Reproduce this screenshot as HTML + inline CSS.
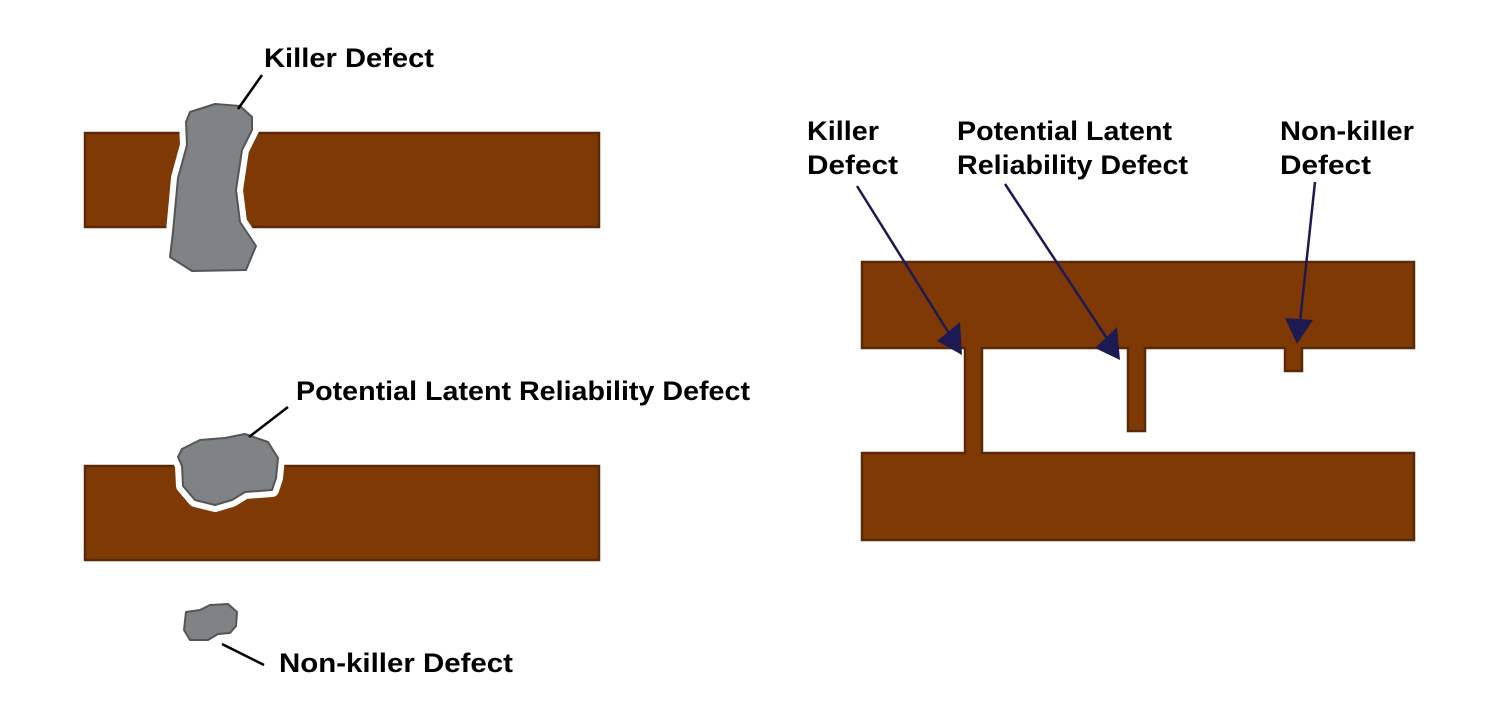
<!DOCTYPE html>
<html><head><meta charset="utf-8"><style>html,body{margin:0;padding:0;background:#fff}svg{display:block}text{font-family:"Liberation Sans",sans-serif;font-weight:bold;font-size:27px;fill:#000}</style></head>
<body>
<svg width="1500" height="725" viewBox="0 0 1500 725" xmlns="http://www.w3.org/2000/svg">
<g stroke="#5a2a08" stroke-width="2.5" fill="#7f3905">
<rect x="85" y="133" width="514" height="94"/>
<rect x="85" y="466" width="514" height="94"/>
</g>
<path d="M190,112 L215,104 L240,106 L252,117 L252,130 L242,150 L236,190 L240,222 L256,246 L246,270 L192,271 L170,257 L173,232 L178,178 L187,145 L186,122 Z" fill="#fff" stroke="#fff" stroke-width="14" stroke-linejoin="round"/>
<path d="M190,112 L215,104 L240,106 L252,117 L252,130 L242,150 L236,190 L240,222 L256,246 L246,270 L192,271 L170,257 L173,232 L178,178 L187,145 L186,122 Z" fill="#7f8386" stroke="#555" stroke-width="2" stroke-linejoin="round"/>
<line x1="238" y1="109" x2="262" y2="75" stroke="#000" stroke-width="2.5"/>
<path d="M182,449 L200,440 L225,438 L245,434 L268,442 L278,458 L276,478 L272,490 L245,492 L232,500 L215,505 L195,500 L183,486 L182,466 L178,457 Z" fill="#fff" stroke="#fff" stroke-width="14" stroke-linejoin="round"/>
<path d="M182,449 L200,440 L225,438 L245,434 L268,442 L278,458 L276,478 L272,490 L245,492 L232,500 L215,505 L195,500 L183,486 L182,466 L178,457 Z" fill="#7f8386" stroke="#555" stroke-width="2" stroke-linejoin="round"/>
<line x1="249" y1="437" x2="288" y2="407" stroke="#000" stroke-width="2.5"/>
<path d="M186,612 L200,610 L210,605 L228,604 L237,612 L236,626 L230,633 L218,634 L208,640 L190,640 L184,630 Z" fill="#7f8386" stroke="#555" stroke-width="2" stroke-linejoin="round"/>
<line x1="222" y1="644" x2="264" y2="665" stroke="#000" stroke-width="2.5"/>
<text x="264" y="67" textLength="170" lengthAdjust="spacingAndGlyphs">Killer Defect</text>
<text x="296" y="400" textLength="454" lengthAdjust="spacingAndGlyphs">Potential Latent Reliability Defect</text>
<text x="279" y="672" textLength="234" lengthAdjust="spacingAndGlyphs">Non-killer Defect</text>
<path d="M862,262 H1414 V348 H1302 V371 H1285 V348 H1145 V431 H1128 V348 H982 V453 H1414 V540 H862 V453 H965 V348 H862 Z" fill="#7f3905" stroke="#5a2a08" stroke-width="2.5"/>
<g stroke="#1c1a50" stroke-width="2.5">
<line x1="857" y1="186" x2="950" y2="335"/>
<line x1="1005" y1="184" x2="1108" y2="340"/>
<line x1="1315" y1="182" x2="1300" y2="322"/>
</g>
<g fill="#1c1a50">
<path d="M962,355 L937,341 L960,322 Z"/>
<path d="M1120,360 L1095,348 L1117,327 Z"/>
<path d="M1297,344 L1285,318 L1313,320 Z"/>
</g>
<text x="807" y="140" textLength="72" lengthAdjust="spacingAndGlyphs">Killer</text>
<text x="807" y="174" textLength="91" lengthAdjust="spacingAndGlyphs">Defect</text>
<text x="957" y="140" textLength="215" lengthAdjust="spacingAndGlyphs">Potential Latent</text>
<text x="957" y="174" textLength="231" lengthAdjust="spacingAndGlyphs">Reliability Defect</text>
<text x="1280" y="140" textLength="134" lengthAdjust="spacingAndGlyphs">Non-killer</text>
<text x="1280" y="174" textLength="91" lengthAdjust="spacingAndGlyphs">Defect</text>
</svg>
</body></html>
